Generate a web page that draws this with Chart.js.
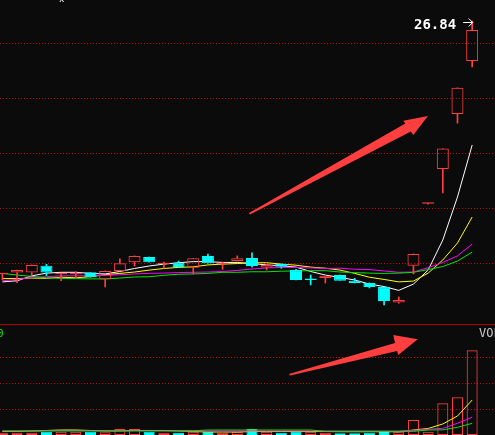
<!DOCTYPE html>
<html>
<head>
<meta charset="utf-8">
<script src="https://cdn.jsdelivr.net/npm/chart.js@4.4.1/dist/chart.umd.min.js"></script>
<style>
  html, body { margin: 0; padding: 0; background: #0b0b0b; }
  #wrap { position: relative; width: 495px; height: 435px; overflow: hidden; background: #0b0b0b; }
  #k-chart { position: absolute; left: 0; top: 0; }
  #sep { position: absolute; left: 0; top: 324px; width: 495px; height: 1px; background: #b00000; }
  #vol-chart { position: absolute; left: 0; top: 325px; }
</style>
</head>
<body>
<div id="wrap">
  <canvas id="k-chart" width="495" height="324"></canvas>
  <div id="sep"></div>
  <canvas id="vol-chart" width="495" height="110"></canvas>
</div>
<script>
// daily candles (one entry per trading day)
const opens  = [17.59, 17.65, 17.65, 17.90, 17.59, 17.59, 17.66, 17.40, 17.71, 18.03, 18.22, 17.95, 18.01, 17.83, 18.26, 17.95, 18.07,
                18.18, 17.84, 17.96, 17.74, 17.40, 17.45, 17.56, 17.35, 17.27, 17.12, 16.56, 17.90, 20.16, 21.43, 23.44, 25.38];
const highs  = [17.62, 17.74, 17.93, 17.95, 17.62, 17.68, 17.66, 17.71, 18.15, 18.26, 18.22, 18.03, 18.07, 18.17, 18.33, 18.03, 18.26,
                18.37, 17.93, 17.96, 17.77, 17.56, 17.53, 17.56, 17.44, 17.27, 17.12, 16.76, 18.33, 20.16, 22.18, 24.40, 26.84];
const lows   = [17.38, 17.28, 17.56, 17.54, 17.35, 17.44, 17.48, 17.13, 17.71, 17.89, 18.03, 17.81, 17.85, 17.60, 17.99, 17.77, 18.07,
                17.85, 17.74, 17.81, 17.38, 17.20, 17.27, 17.35, 17.27, 17.09, 16.47, 16.53, 17.60, 20.16, 20.56, 23.11, 25.16];
const closes = [17.62, 17.74, 17.93, 17.65, 17.62, 17.62, 17.48, 17.71, 17.99, 18.26, 18.03, 17.99, 17.85, 18.17, 17.99, 17.99, 18.17,
                17.89, 17.93, 17.86, 17.38, 17.38, 17.53, 17.35, 17.27, 17.12, 16.61, 16.65, 18.33, 20.16, 22.18, 24.40, 26.51];

// moving averages as drawn (white, yellow, magenta, green)
const ma5  = [17.31, 17.35, 17.53, 17.63, 17.66, 17.66, 17.62, 17.60, 17.69, 17.80, 17.89, 17.96, 18.01, 18.05, 18.05, 18.02, 18.02,
              17.98, 17.93, 17.90, 17.85, 17.69, 17.56, 17.47, 17.38, 17.23, 17.14, 17.00, 17.23, 17.74, 18.84, 20.41, 22.31];
const ma10 = [17.43, 17.43, 17.45, 17.44, 17.48, 17.46, 17.50, 17.57, 17.62, 17.67, 17.74, 17.80, 17.84, 17.86, 17.93, 17.96, 17.98,
              18.01, 18.01, 17.96, 17.92, 17.85, 17.81, 17.74, 17.62, 17.48, 17.40, 17.31, 17.34, 17.63, 18.11, 18.73, 19.68];
const ma20 = [17.35, 17.40, 17.47, 17.50, 17.53, 17.53, 17.53, 17.55, 17.57, 17.60, 17.62, 17.63, 17.65, 17.66, 17.67, 17.69, 17.73,
              17.78, 17.82, 17.84, 17.84, 17.82, 17.80, 17.81, 17.77, 17.76, 17.71, 17.66, 17.67, 17.83, 18.02, 18.26, 18.69];
const ma30 = [17.62, 17.56, 17.51, 17.46, 17.44, 17.43, 17.42, 17.42, 17.45, 17.49, 17.50, 17.55, 17.59, 17.60, 17.62, 17.66, 17.66,
              17.68, 17.68, 17.70, 17.71, 17.72, 17.72, 17.67, 17.65, 17.63, 17.62, 17.63, 17.66, 17.76, 17.87, 18.07, 18.40];

// volume (10k lots) and its averages
const volumes = [0.44, 0.44, 0.44, 0.63, 0.63, 0.63, 0.63, 0.52, 1.15, 1.15, 0.63, 0.44, 0.44, 0.63, 0.63, 0.44, 0.63,
                 1.15, 0.63, 0.44, 0.63, 0.63, 0.44, 0.33, 0.33, 0.44, 0.58, 0.63, 2.88, 0.63, 6.10, 7.25, 16.29];
const volUp   = [1, 1, 1, 0, 1, 1, 0, 1, 1, 1, 0, 1, 0, 1, 0, 1, 1, 0, 1, 0, 0, 1, 1, 0, 0, 0, 0, 1, 1, 1, 1, 1, 1];
const volMa5  = [0.67, 0.67, 0.77, 0.87, 0.96, 0.96, 0.87, 0.77, 0.77, 0.87, 0.87, 0.87, 0.77, 0.67, 0.58, 0.58, 0.58,
                 0.67, 0.67, 0.67, 0.67, 0.67, 0.67, 0.63, 0.63, 0.63, 0.63, 0.63, 0.96, 1.25, 2.12, 3.65, 6.73];
const volMa10 = [0.77, 0.77, 0.77, 0.77, 0.77, 0.77, 0.77, 0.77, 0.77, 0.77, 0.77, 0.77, 0.77, 0.77, 0.77, 0.77, 0.77,
                 0.77, 0.77, 0.77, 0.77, 0.77, 0.77, 0.77, 0.77, 0.77, 0.77, 0.77, 0.87, 1.10, 1.29, 2.25, 3.42];
const volMa20 = [0.77, 0.77, 0.77, 0.82, 0.82, 0.82, 0.82, 0.82, 0.82, 0.82, 0.82, 0.82, 0.82, 0.82, 0.96, 0.96, 0.96,
                 0.96, 0.96, 0.96, 0.96, 0.96, 0.70, 0.70, 0.70, 0.70, 0.70, 0.70, 0.70, 0.96, 1.00, 1.48, 2.25];

// grid levels
const priceTicks = [18, 20, 22, 24, 26];
const volTicks = [5, 10, 15];
const lastHighLabel = '26.84';

const RED = '#ff3f3f';
const CYAN = '#00ffff';
const GRID_RED = '#c80000';
const X_RANGE = { min: -0.164, max: 33.556 };

const isUp = i => closes[i] >= opens[i];

function maLine(values, color, order) {
  return {
    type: 'line',
    data: values.map((v, i) => ({ x: i, y: v })),
    borderColor: color,
    borderWidth: 1,
    pointRadius: 0,
    tension: 0,
    order: order
  };
}

function xScale() {
  return { type: 'linear', min: X_RANGE.min, max: X_RANGE.max, offset: false, display: false };
}

function gridScale(min, max, ticks) {
  return {
    min: min,
    max: max,
    afterBuildTicks: scale => { scale.ticks = ticks.map(v => ({ value: v })); },
    ticks: { display: false },
    grid: { color: GRID_RED, lineWidth: 1, drawTicks: false },
    border: { display: false, dash: [1, 2] }
  };
}

function fillPolygon(ctx, pts) {
  ctx.beginPath();
  pts.forEach(([x, y], k) => k ? ctx.lineTo(x, y) : ctx.moveTo(x, y));
  ctx.closePath();
  ctx.fill();
}

// annotations on the price panel
const priceNotes = {
  id: 'priceNotes',
  afterDatasetsDraw(chart) {
    const ctx = chart.ctx;
    const last = highs.length - 1;
    const hx = chart.scales.x.getPixelForValue(last);
    const hy = chart.scales.y.getPixelForValue(highs[last]);
    ctx.save();
    // big red arrow
    ctx.fillStyle = RED;
    fillPolygon(ctx, [[249, 213], [405.3, 123.6], [403.3, 120.7], [428, 116], [413.3, 135], [410.8, 131.4], [250, 214.5]]);
    // last high label with a small pointer
    ctx.fillStyle = '#ffffff';
    ctx.font = 'bold 14px "DejaVu Sans Mono"';
    ctx.textAlign = 'right';
    ctx.textBaseline = 'alphabetic';
    ctx.fillText(lastHighLabel, hx - 16, hy + 8);
    ctx.strokeStyle = '#ffffff';
    ctx.lineWidth = 1;
    ctx.beginPath();
    ctx.moveTo(hx - 9, hy + 1.5);
    ctx.lineTo(hx + 1, hy + 1.5);
    ctx.moveTo(hx - 3.5, hy - 2.5);
    ctx.lineTo(hx + 0.5, hy + 1.5);
    ctx.lineTo(hx - 3.5, hy + 5.5);
    ctx.stroke();
    // clipped text mark at the top edge
    ctx.font = '9px "DejaVu Sans Mono"';
    ctx.textAlign = 'left';
    ctx.fillText('x', 59, 2);
    ctx.restore();
  }
};

// annotations on the volume panel
const volNotes = {
  id: 'volNotes',
  afterDatasetsDraw(chart) {
    const ctx = chart.ctx;
    ctx.save();
    ctx.fillStyle = RED;
    fillPolygon(ctx, [[289, 49], [395, 18], [393.3, 10], [417.7, 14.3], [398.3, 30], [397, 26], [290, 50.5]]);
    ctx.font = '12px "DejaVu Sans Mono"';
    ctx.fillStyle = '#c8c8c8';
    ctx.fillText('VOL', 479, 12);
    ctx.fillStyle = '#00e600';
    ctx.font = '11px "DejaVu Sans Mono"';
    ctx.fillText('0', -3, 12);
    ctx.restore();
  }
};

const baseOptions = {
  responsive: false,
  devicePixelRatio: 1,
  animation: false,
  layout: { padding: 0 },
  plugins: { legend: { display: false }, tooltip: { enabled: false } }
};

// price chart: bodies and wicks as floating bars, averages as lines
new Chart(document.getElementById('k-chart').getContext('2d'), {
  type: 'bar',
  data: {
    datasets: [
      {
        data: opens.map((o, i) => ({ x: i, y: [Math.min(o, closes[i]), Math.max(o, closes[i])] })),
        backgroundColor: ctx => isUp(ctx.dataIndex) ? 'rgba(0,0,0,0)' : CYAN,
        borderColor: ctx => isUp(ctx.dataIndex) ? RED : CYAN,
        borderWidth: 1,
        borderSkipped: false,
        inflateAmount: 0,
        barThickness: 12,
        minBarLength: 1.5,
        grouped: false,
        order: 0
      },
      {
        data: highs.map((h, i) => ({ x: i, y: [Math.max(opens[i], closes[i]), h] })),
        backgroundColor: ctx => isUp(ctx.dataIndex) ? RED : CYAN,
        borderWidth: 0,
        barThickness: 1,
        grouped: false,
        order: 1
      },
      {
        data: lows.map((l, i) => ({ x: i, y: [l, Math.min(opens[i], closes[i])] })),
        backgroundColor: ctx => isUp(ctx.dataIndex) ? RED : CYAN,
        borderWidth: 0,
        barThickness: 1,
        grouped: false,
        order: 1
      },
      maLine(ma30, '#00e600', 2),
      maLine(ma20, '#ff00ff', 2),
      maLine(ma10, '#ffff00', 2),
      maLine(ma5, '#ffffff', 2)
    ]
  },
  options: Object.assign({}, baseOptions, {
    scales: {
      x: xScale(),
      y: gridScale(15.7717, 27.6073, priceTicks)
    }
  }),
  plugins: [priceNotes]
});

// volume chart
new Chart(document.getElementById('vol-chart').getContext('2d'), {
  type: 'bar',
  data: {
    datasets: [
      {
        data: volumes.map((v, i) => ({ x: i, y: v })),
        backgroundColor: ctx => volUp[ctx.dataIndex] ? 'rgba(0,0,0,0)' : CYAN,
        borderColor: ctx => volUp[ctx.dataIndex] ? RED : CYAN,
        borderWidth: 1,
        borderSkipped: false,
        inflateAmount: 0,
        barThickness: 11,
        grouped: false,
        order: 1
      },
      maLine(volMa20, '#00e600', 0),
      maLine(volMa10, '#ff00ff', 0),
      maLine(volMa5, '#ffff00', 0)
    ]
  },
  options: Object.assign({}, baseOptions, {
    scales: {
      x: xScale(),
      y: gridScale(0, 21.154, volTicks)
    }
  }),
  plugins: [volNotes]
});
</script>
</body>
</html>
